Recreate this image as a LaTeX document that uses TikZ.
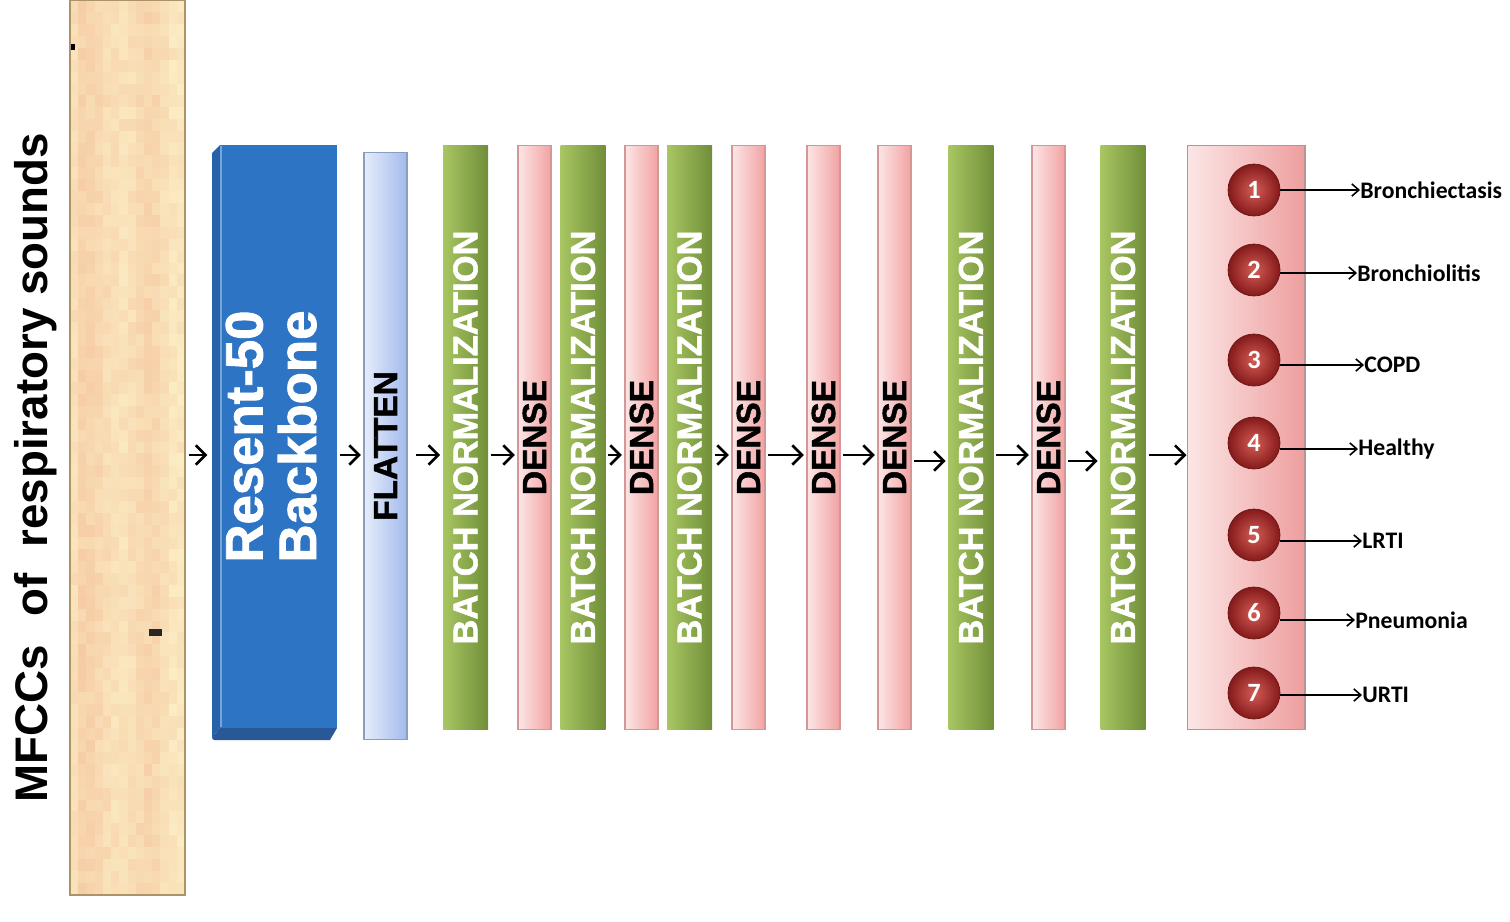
\documentclass[tikz,border=0pt]{standalone}
\usepackage{fontspec}
\setmainfont{Liberation Sans}
\newfontfamily\heavyfont{Liberation Sans}[UprightFont=* Bold, UprightFeatures={FakeBold=1.6}]
\newfontfamily\lblfont{Carlito}
\usetikzlibrary{arrows.meta}

\definecolor{bnlight}{RGB}{168,198,98}
\definecolor{bndark}{RGB}{112,142,56}
\definecolor{dnlight}{RGB}{252,230,230}
\definecolor{dndark}{RGB}{242,162,162}
\definecolor{dnedge}{RGB}{212,150,150}
\definecolor{fllight}{RGB}{230,237,250}
\definecolor{fldark}{RGB}{162,186,236}
\definecolor{fledge}{RGB}{140,158,190}
\definecolor{resblue}{RGB}{46,116,196}
\definecolor{resside}{RGB}{38,98,170}
\definecolor{resbottom}{RGB}{40,88,150}
\definecolor{mfccbase}{RGB}{251,236,196}
\definecolor{mfccorange}{RGB}{236,150,112}
\definecolor{mfccedge}{RGB}{172,148,104}
\definecolor{ballin}{RGB}{212,92,86}
\definecolor{ballout}{RGB}{132,26,26}
\definecolor{outright}{RGB}{238,158,158}
\definecolor{outedge}{RGB}{180,150,150}

\tikzset{
  layer/.style={rectangle, inner sep=0pt, minimum height=11.7cm},
  bnorm/.style={layer, minimum width=0.9cm, left color=bnlight, right color=bndark,
    text=white, font=\heavyfont\fontsize{19.6}{20}\selectfont},
  dense/.style={layer, minimum width=0.66cm, left color=dnlight, right color=dndark,
    draw=dnedge, line width=0.6pt, font=\heavyfont\fontsize{19}{20}\selectfont},
  flatbox/.style={layer, minimum width=0.86cm, minimum height=11.76cm, left color=fllight,
    right color=fldark, draw=fledge, line width=0.6pt, font=\heavyfont\fontsize{19}{20}\selectfont},
  resbox/.style={rectangle, inner sep=0pt, minimum width=2.34cm, minimum height=11.66cm,
    fill=resblue, text=white, font=\heavyfont\fontsize{30}{29}\selectfont},
  outbox/.style={layer, minimum width=2.36cm, left color=dnlight, right color=outright,
    draw=outedge, line width=0.6pt},
  ball/.style={circle, minimum size=1.04cm, inner sep=0pt, inner color=ballin, outer color=ballout,
    draw=ballout!80!black, line width=0.4pt, text=white, font=\lblfont\fontsize{15}{15}\selectfont\bfseries},
  disease/.style={anchor=west, inner sep=0pt, font=\lblfont\fontsize{13.5}{14}\selectfont\bfseries},
  arr/.style={line width=1.5pt, -{Straight Barb[length=5.5pt,width=11pt]}, shorten <=1.5pt, shorten >=1.5pt},
  outarr/.style={line width=0.9pt, -{Straight Barb[length=4pt,width=7pt]}}
}

\begin{document}
\begin{tikzpicture}[x=0.02cm, y=-0.02cm]
    \useasboundingbox (0,0) rectangle (1510,921);
    \pgfmathsetseed{11}

    % MFCC strip
    \foreach \i in {0,...,13} {
        \pgfmathsetmacro{\cb}{{8,22,20,16,10,6,5,8,14,18,16,8,0,0}[\i]}
        \foreach \j in {0,...,74} {
            \pgfmathsetmacro{\val}{\cb+16*rnd}
            \fill[mfccorange!\val!mfccbase] (70+\i*8.214, \j*11.933) rectangle ++(8.3, 12.0);
        }
    }
    \fill[black] (70,44) rectangle (75,50);
    \fill[black!85] (149,629) rectangle (162,636);
    \node[draw=mfccedge, line width=1pt, minimum width=2.3cm, minimum height=17.9cm,
        inner sep=0pt] (mfcc) at (127.5,447.5) {};
    \node[rotate=90, font=\fontsize{26}{26}\selectfont\bfseries] (title) at (36,468)
        {MFCCs\hspace{0.35em} of\hspace{0.3em} respiratory sounds};

    % backbone with bevel
    \fill[resside] (212,153) -- (220,145) -- (220,728) -- (212,738) -- cycle;
    \fill[resbottom] (212,738) -- (220,728) -- (337,728) -- (330,740) -- (214,740) -- cycle;
    \node[resbox] (res) at (278.5,436.5)
        {\rotatebox{90}{\begin{tabular}{@{}c@{}}Resent-50\\Backbone\end{tabular}}};
    \draw[resblue!65!white, line width=1pt] (221,146) -- (221,727);

    % layers
    \node[flatbox] (flat) at (385.5,446) {\rotatebox{90}{FLATTEN}};
    \node[bnorm] (bn1) at (465.5,437.5) {\rotatebox{90}{BATCH NORMALIZATION}};
    \node[dense] (d1) at (534.5,437.5) {\rotatebox{90}{DENSE}};
    \node[bnorm] (bn2) at (583,437.5) {\rotatebox{90}{BATCH NORMALIZATION}};
    \node[dense] (d2) at (641.5,437.5) {\rotatebox{90}{DENSE}};
    \node[bnorm] (bn3) at (689.5,437.5) {\rotatebox{90}{BATCH NORMALIZATION}};
    \node[dense] (d3) at (748.5,437.5) {\rotatebox{90}{DENSE}};
    \node[dense] (d4) at (823.5,437.5) {\rotatebox{90}{DENSE}};
    \node[dense] (d5) at (894.5,437.5) {\rotatebox{90}{DENSE}};
    \node[bnorm] (bn4) at (971,437.5) {\rotatebox{90}{BATCH NORMALIZATION}};
    \node[dense] (d6) at (1048.5,437.5) {\rotatebox{90}{DENSE}};
    \node[bnorm] (bn5) at (1123,437.5) {\rotatebox{90}{BATCH NORMALIZATION}};
    \node[outbox] (out) at (1246,437.5) {};

    % arrows
    \coordinate (ya) at (0,455);
    \coordinate (yb) at (0,461);
    \draw[arr, shorten >=7pt] (mfcc.east |- ya) -- (res.west |- ya);
    \draw[arr] (res.east |- ya) -- (flat.west |- ya);
    \draw[arr, shorten <=5pt] (flat.east |- ya) -- (bn1.west |- ya);
    \draw[arr] (bn1.east |- ya) -- (d1.west |- ya);
    \draw[arr] (bn2.east |- ya) -- (d2.west |- ya);
    \draw[arr] (bn3.east |- ya) -- (d3.west |- ya);
    \draw[arr] (d3.east |- ya) -- (d4.west |- ya);
    \draw[arr] (d4.east |- ya) -- (d5.west |- ya);
    \draw[arr] (d5.east |- yb) -- (bn4.west |- yb);
    \draw[arr] (bn4.east |- ya) -- (d6.west |- ya);
    \draw[arr] (d6.east |- yb) -- (bn5.west |- yb);
    \draw[arr, shorten >=0pt] (bn5.east |- ya) -- (out.west |- ya);

    % classes
    \foreach \n/\cy/\lx/\ly/\dis in {1/190/1360/190/Bronchiectasis, 2/270/1357/273/Bronchiolitis,
        3/360/1364/365/COPD, 4/443/1358/449/Healthy, 5/535/1362/541/LRTI,
        6/613/1355/620/Pneumonia, 7/693/1362/695/URTI} {
        \node[ball] (c\n) at (1254,\cy) {\n};
        \node[disease] (l\n) at (\lx,\ly) {\dis};
        \draw[outarr] (c\n.east |- l\n.west) -- (l\n.west);
    }
\end{tikzpicture}
\end{document}
